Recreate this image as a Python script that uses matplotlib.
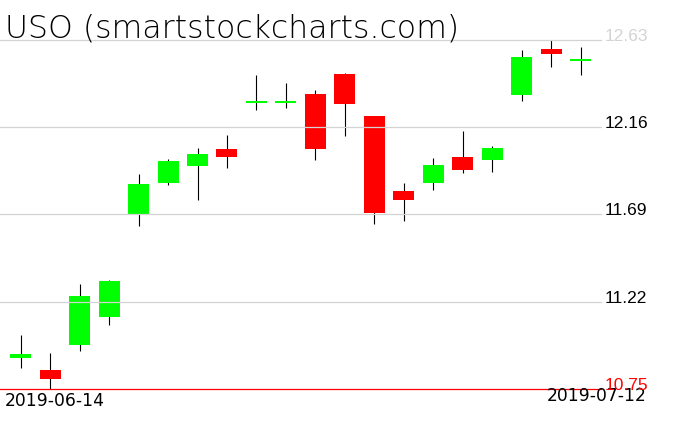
import matplotlib
matplotlib.use("Agg")
import matplotlib.pyplot as plt
import numpy as np

# ---- data ----
dates = ["2019-06-14", "2019-06-17", "2019-06-18", "2019-06-19", "2019-06-20",
         "2019-06-21", "2019-06-24", "2019-06-25", "2019-06-26", "2019-06-27",
         "2019-06-28", "2019-07-01", "2019-07-02", "2019-07-03", "2019-07-05",
         "2019-07-08", "2019-07-09", "2019-07-10", "2019-07-11", "2019-07-12"]
opens = [10.919, 10.852, 10.988, 11.139, 11.692, 11.859, 11.950, 12.042, 12.295, 12.295,
         12.338, 12.445, 12.218, 11.816, 11.860, 11.999, 11.984, 12.334, 12.580, 12.522]
highs = [11.041, 10.942, 11.315, 11.338, 11.907, 11.988, 12.047, 12.117, 12.440, 12.397,
         12.359, 12.451, 12.221, 11.859, 11.993, 12.139, 12.058, 12.575, 12.630, 12.591]
lows = [10.861, 10.750, 10.956, 11.096, 11.629, 11.850, 11.769, 11.941, 12.253, 12.264,
        11.984, 12.110, 11.640, 11.652, 11.823, 11.913, 11.920, 12.302, 12.485, 12.442]
closes = [10.938, 10.805, 11.251, 11.331, 11.853, 11.977, 12.015, 11.999, 12.295, 12.295,
          12.043, 12.286, 11.699, 11.769, 11.956, 11.930, 12.047, 12.537, 12.555, 12.522]
levels = [12.63, 12.16, 11.69, 11.22, 10.75]
level_labels = ["12.63", "12.16", "11.69", "11.22", "10.75"]
level_colors = ["#d3d3d3", "black", "black", "black", "red"]
title = "USO (smartstockcharts.com)"

W, H = 676, 431
fig = plt.figure(figsize=(W / 100, H / 100), dpi=100)
ax = fig.add_axes([0, 0, 1, 1])
ax.set_axis_off()

px_step = 29.47
x0 = 20.7
ax.set_xlim(-x0 / px_step, (W - x0) / px_step)
ppu = 185.8
top_price = 12.63 + 40.7 / ppu
ax.set_ylim(top_price - H / ppu, top_price)

n = len(dates)
x = np.arange(n)
o = np.array(opens); c = np.array(closes)
hi = np.array(highs); lo = np.array(lows)
up = c >= o
colors = np.where(up, "#00ff00", "#ff0000")

ax.vlines(x, lo, hi, colors="black", linewidth=0.8, zorder=2)
min_h = 1.6 / ppu
heights = np.maximum(np.abs(c - o), min_h)
bottoms = np.minimum(o, c) - np.where(np.abs(c - o) < min_h, min_h / 2, 0)
ax.bar(x, heights, bottom=bottoms, width=21 / px_step, color=colors,
       linewidth=0, zorder=3)

gx = 601 / W
tr = matplotlib.transforms.blended_transform_factory(fig.transFigure, ax.transData)
for lv, lab, col in zip(levels, level_labels, level_colors):
    lc = "red" if col == "red" else "#d3d3d3"
    ax.axhline(lv, xmin=0, xmax=gx, color=lc, linewidth=0.9, zorder=4)
    fig.text(605 / W, lv, lab, color=col, fontsize=12.5, family="Liberation Sans",
             ha="left", va="baseline", transform=tr, zorder=5)

fig.text(5 / W, 1 - 37 / H, title, fontsize=22.7, family="DejaVu Sans",
         fontweight="light", ha="left", va="baseline", color="black")
fig.text(5 / W, 1 - 406 / H, dates[0], fontsize=12.3, family="DejaVu Sans",
         ha="left", va="baseline", color="black")
fig.text(647 / W, 1 - 401 / H, dates[-1], fontsize=12.3, family="DejaVu Sans",
         ha="right", va="baseline", color="black")

fig.savefig("out.png", dpi=100)
